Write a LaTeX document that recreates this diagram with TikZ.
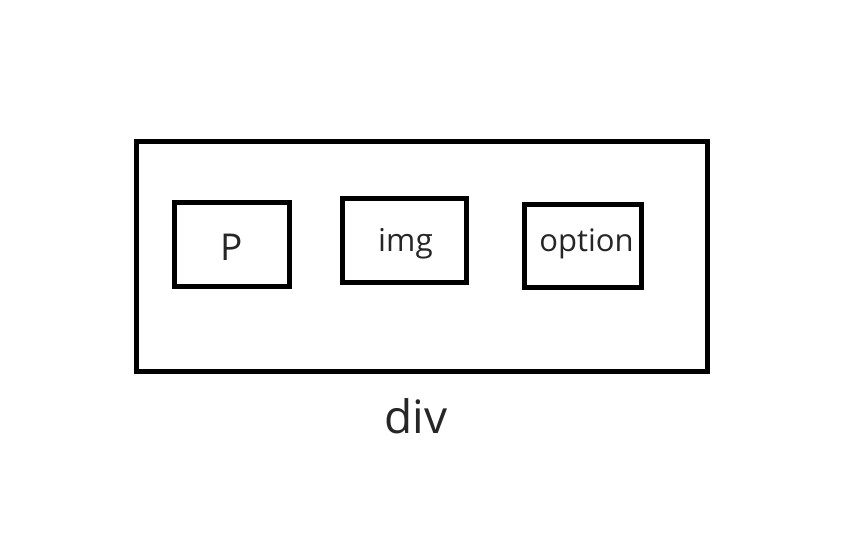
\documentclass[tikz,border=0pt]{standalone}
\usepackage{fontspec}
\setmainfont{Open Sans}
\begin{document}
\begin{tikzpicture}[x=1pt,y=-1pt,
  box/.style={draw=black,line width=5pt},
  lbl/.style={anchor=base,text=black!85,inner sep=0pt}]
\useasboundingbox (0,0) rectangle (841,541);
\fill[white] (0,0) rectangle (841,541);
\draw[box] (136,141.5) rectangle (707,371.5);
\draw[box] (174,202) rectangle (289.5,286);
\draw[box] (342,198) rectangle (466.5,282.5);
\draw[box] (524,204) rectangle (641.5,287.5);
\node[lbl,font=\fontsize{37}{40}\selectfont] (p) at (232,260) {P};
\node[lbl,font=\fontsize{31.5}{34}\selectfont] (img) at (405.5,251) {img};
\node[lbl,font=\fontsize{31}{34}\selectfont] (opt) at (586.5,251) {option};
\node[lbl,font=\fontsize{46}{50}\selectfont] (div) at (416,433) {div};
\end{tikzpicture}
\end{document}
